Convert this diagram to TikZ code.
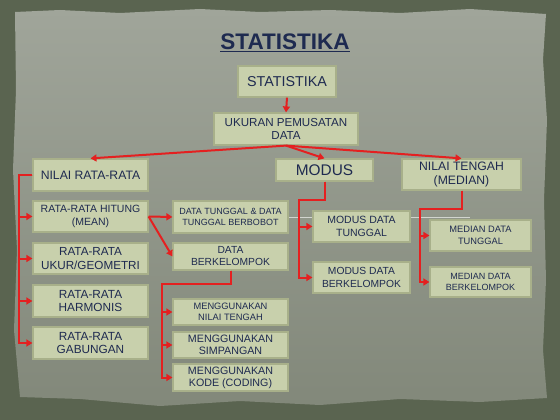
\documentclass[tikz,border=0pt]{standalone}
\usepackage{fontspec}
\setmainfont{Liberation Sans}
\usetikzlibrary{arrows.meta}
\definecolor{bgdark}{RGB}{90,100,80}
\definecolor{papertop}{RGB}{160,165,154}
\definecolor{paperbot}{RGB}{130,136,122}
\definecolor{boxfill}{RGB}{200,208,172}
\definecolor{boxline}{RGB}{168,176,138}
\definecolor{ink}{RGB}{30,42,80}
\definecolor{redline}{RGB}{228,32,32}

\begin{document}
\begin{tikzpicture}[x=1pt, y=-1pt,
  box/.style={draw=boxline, fill=boxfill, line width=1.2pt, inner sep=0pt, align=center, text=ink},
  arr/.style={draw=redline, line width=2pt, -{Triangle[length=6pt,width=7pt]}}]
\useasboundingbox (0,0) rectangle (560,420);
% background and paper
\fill[bgdark] (0,0) rectangle (560,420);
\shade[top color=papertop, bottom color=paperbot]
  (15,12) -- (60,10) -- (120,13) -- (200,9) -- (260,12) -- (330,10) -- (400,13) -- (470,9) -- (546,14)
  -- (543,60) -- (547,120) -- (544,200) -- (546,280) -- (543,350) -- (547,398)
  -- (480,402) -- (400,399) -- (320,405) -- (240,401) -- (160,406) -- (80,399) -- (20,397)
  -- (14,330) -- (17,250) -- (13,170) -- (16,90) -- cycle;
\draw[white, opacity=0.6, line width=0.6pt] (289,217) -- (470,217);

\node[text=ink, font=\fontsize{22.5}{26}\selectfont\bfseries] (title) at (285,43) {\underline{STATISTIKA}};

\node[box, minimum width=98pt, minimum height=31pt, font=\fontsize{14.3}{16}\selectfont] (stat) at (287,81.5) {STATISTIKA};
\node[box, minimum width=144pt, minimum height=32pt, font=\fontsize{11.6}{13}\selectfont] (ukuran) at (286,129) {UKURAN PEMUSATAN\\DATA};

\node[box, minimum width=115pt, minimum height=32pt, font=\fontsize{12.2}{14}\selectfont] (nilai) at (90.5,175) {NILAI RATA-RATA};
\node[box, minimum width=115pt, minimum height=31pt, font=\fontsize{10.5}{12.7}\selectfont] (hitung) at (90.5,216.5) {RATA-RATA HITUNG\\(MEAN)};
\node[box, minimum width=115pt, minimum height=31pt, font=\fontsize{11.7}{13.5}\selectfont] (ukur) at (90.5,258.5) {RATA-RATA\\UKUR/GEOMETRI};
\node[box, minimum width=115pt, minimum height=32pt, font=\fontsize{11.8}{13.5}\selectfont] (harmonis) at (90.5,301) {RATA-RATA\\HARMONIS};
\node[box, minimum width=115pt, minimum height=32pt, font=\fontsize{11.8}{13.5}\selectfont] (gabungan) at (90.5,343) {RATA-RATA\\GABUNGAN};

\node[box, minimum width=115pt, minimum height=32pt, font=\fontsize{9}{11.5}\selectfont] (dtunggal) at (230.5,217) {DATA TUNGGAL \& DATA\\TUNGGAL BERBOBOT};
\node[box, minimum width=115pt, minimum height=27pt, font=\fontsize{10.3}{12}\selectfont] (dberk) at (230.5,256.5) {DATA\\BERKELOMPOK};
\node[box, minimum width=115pt, minimum height=26pt, font=\fontsize{9.3}{11}\selectfont] (mnilai) at (230.5,312) {MENGGUNAKAN\\NILAI TENGAH};
\node[box, minimum width=115pt, minimum height=26pt, font=\fontsize{10.7}{12}\selectfont] (msimp) at (230.5,345) {MENGGUNAKAN\\SIMPANGAN};
\node[box, minimum width=115pt, minimum height=27pt, font=\fontsize{10.7}{12}\selectfont] (mkode) at (230.5,377.5) {MENGGUNAKAN\\KODE (CODING)};

\node[box, minimum width=97pt, minimum height=22pt, font=\fontsize{15.4}{17}\selectfont] (modus) at (324.5,170) {MODUS};
\node[box, minimum width=97pt, minimum height=31pt, font=\fontsize{10.5}{12.5}\selectfont] (modt) at (361.5,226.5) {MODUS DATA\\TUNGGAL};
\node[box, minimum width=97pt, minimum height=31pt, font=\fontsize{10.3}{12.5}\selectfont] (modb) at (361.5,277.5) {MODUS DATA\\BERKELOMPOK};

\node[box, minimum width=119pt, minimum height=31pt, font=\fontsize{12.2}{13.5}\selectfont] (median) at (461.5,174.5) {NILAI TENGAH\\(MEDIAN)};
\node[box, minimum width=101pt, minimum height=31pt, font=\fontsize{9.3}{11.5}\selectfont] (medt) at (480.5,235.5) {MEDIAN DATA\\TUNGGAL};
\node[box, minimum width=101pt, minimum height=30pt, font=\fontsize{9}{11.5}\selectfont] (medb) at (480.5,282) {MEDIAN DATA\\BERKELOMPOK};

\coordinate (k1) at (162,284);
\coordinate (k2) at (299,200);
\coordinate (k3) at (420,209);

% connectors
\draw[arr] (stat.south) -- (ukuran.north);
\draw[arr] (ukuran.south) -- (nilai.north);
\draw[arr] (ukuran.south) -- (modus.north);
\draw[arr] (ukuran.south) -- (median.north);

\draw[arr] (nilai.west) -- ++(-13,0) |- (hitung.west);
\draw[arr] (nilai.west) -- ++(-13,0) |- (ukur.west);
\draw[arr] (nilai.west) -- ++(-13,0) |- (harmonis.west);
\draw[arr] (nilai.west) -- ++(-13,0) |- (gabungan.west);

\draw[arr] (hitung.east) -- (dtunggal.west);
\draw[arr] (hitung.east) -- (dberk.west);

\draw[arr] (dberk.south) |- (k1) |- (mnilai.west);
\draw[arr] (dberk.south) |- (k1) |- (msimp.west);
\draw[arr] (dberk.south) |- (k1) |- (mkode.west);

\draw[arr] (modus.south) |- (k2) |- (modt.west);
\draw[arr] (modus.south) |- (k2) |- (modb.west);

\draw[arr] (median.south) |- (k3) |- (medt.west);
\draw[arr] (median.south) |- (k3) |- (medb.west);
\end{tikzpicture}
\end{document}
